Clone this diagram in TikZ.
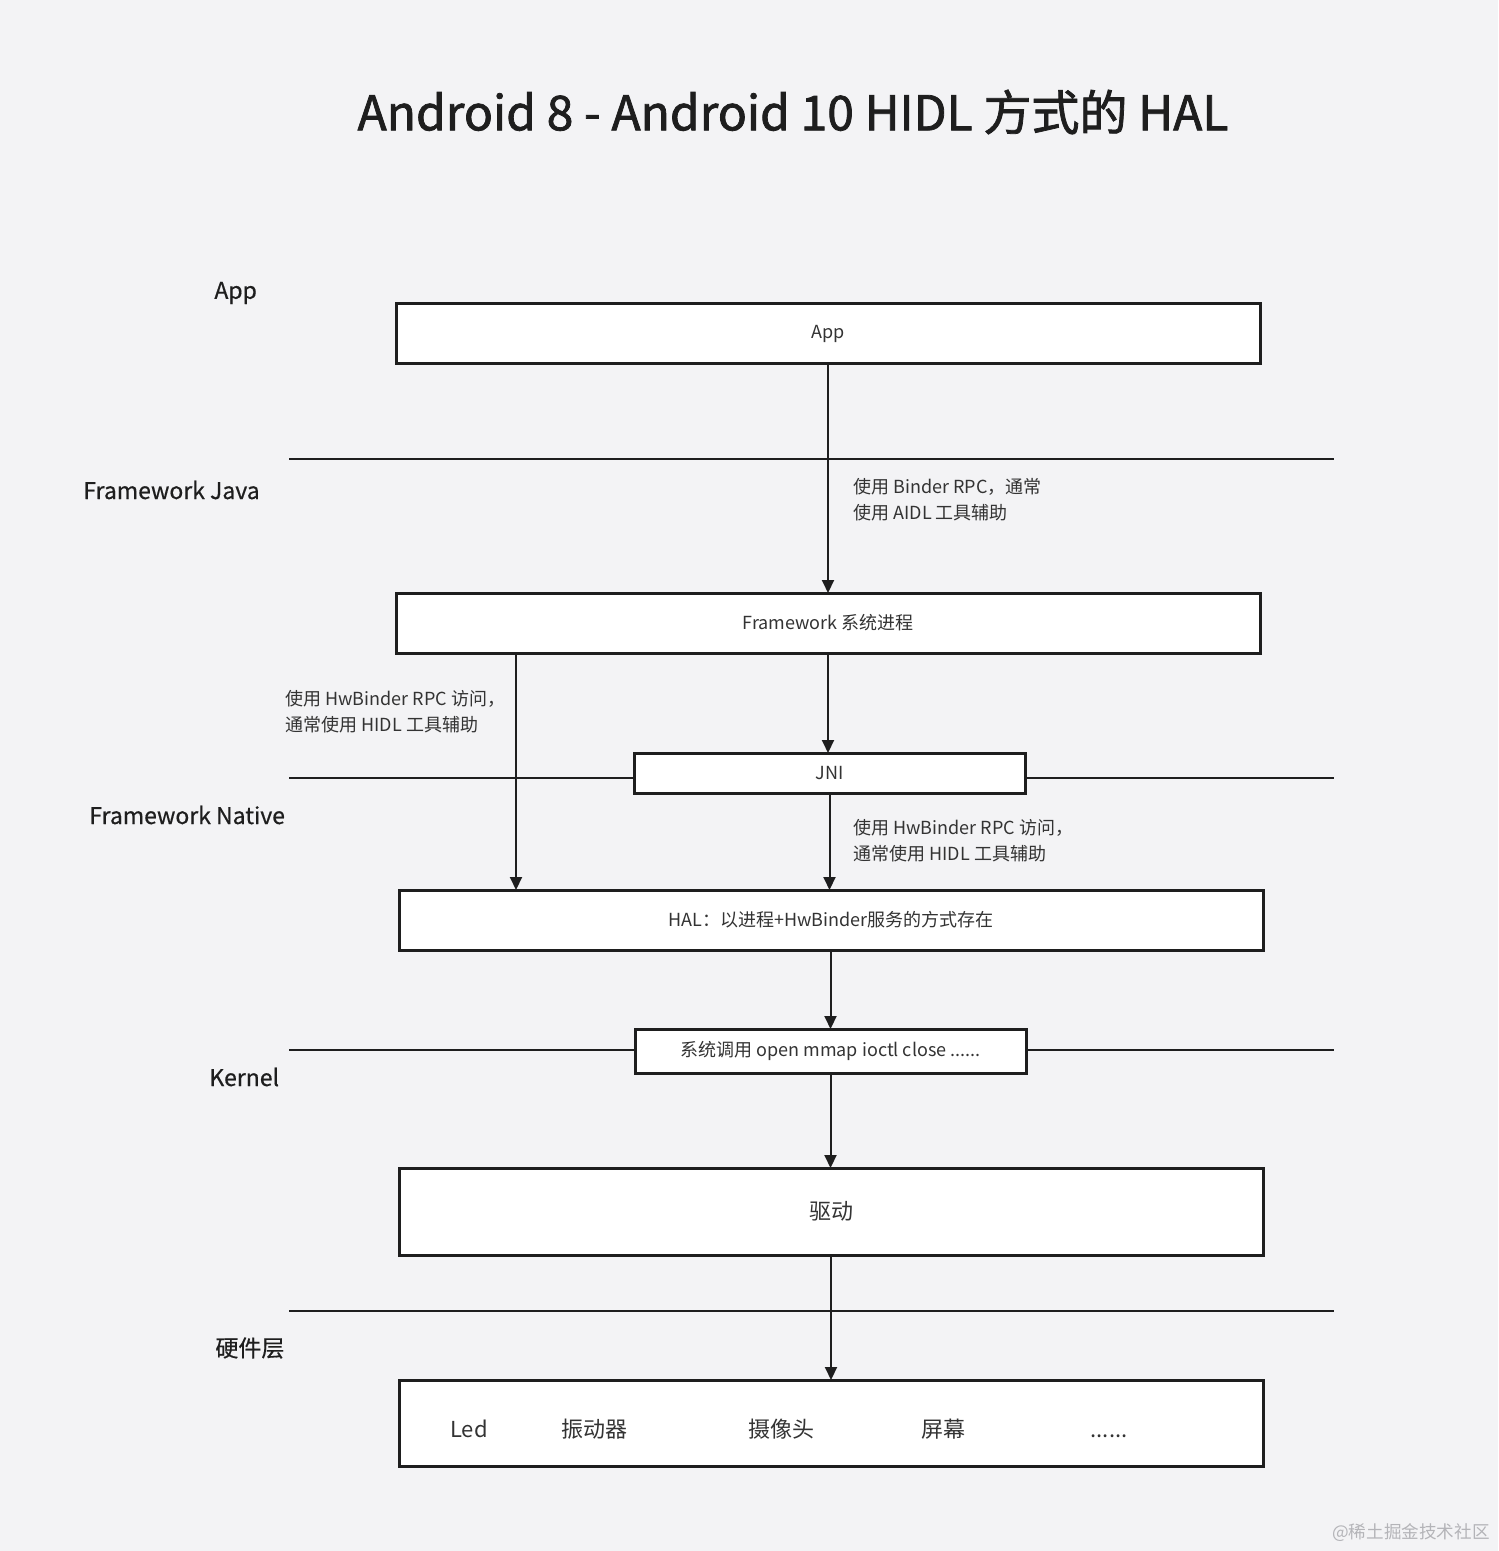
\documentclass[tikz,border=0pt]{standalone}
\usepackage{fontspec}
\setmainfont{Noto Sans CJK SC}
\newfontfamily\titlefont{Noto Sans CJK SC}[FakeBold=1.6]
\newfontfamily\layfont{Noto Sans CJK SC}[FakeBold=0.5]
\usetikzlibrary{arrows.meta,calc}
\definecolor{bg}{HTML}{F3F3F5}
\definecolor{ink}{HTML}{1E1E1E}
\definecolor{txt}{HTML}{333333}
\definecolor{wm}{HTML}{B4B4B8}
\begin{document}
\begin{tikzpicture}[x=0.5pt,y=-0.5pt,
  box/.style={draw=ink,line width=1.5pt,fill=white,inner sep=0pt,outer sep=0pt,
    text=txt,font=\fontsize{9}{11}\selectfont},
  sep/.style={draw=ink,line width=1.2pt},
  arr/.style={draw=ink,line width=1pt,-{Triangle[length=6.5pt,width=6pt]}},
  lay/.style={anchor=west,inner sep=0pt,text=ink,font=\layfont\fontsize{11.5}{14}\selectfont},
  note/.style={anchor=west,inner sep=0pt,align=left,text=txt,font=\fontsize{9}{13}\selectfont},
  hw/.style={anchor=base,inner sep=0pt,text=txt,font=\fontsize{11}{13}\selectfont}]
\useasboundingbox[fill=bg] (0,0) rectangle (1498,1551);

% title
\node[inner sep=0pt,text=ink,font=\titlefont\fontsize{24}{30}\selectfont] (title) at (793,112) {Android 8 - Android 10 HIDL 方式的 HAL};

% layer separators
\coordinate (s1a) at (289,459);  \coordinate (s1b) at (1334,459);
\coordinate (s2a) at (289,778);  \coordinate (s2b) at (1334,778);
\coordinate (s3a) at (289,1050); \coordinate (s3b) at (1334,1050);
\coordinate (s4a) at (289,1311); \coordinate (s4b) at (1334,1311);
\draw[sep] (s1a) -- (s1b);
\draw[sep] (s2a) -- (s2b);
\draw[sep] (s3a) -- (s3b);
\draw[sep] (s4a) -- (s4b);

% layer labels
\node[lay] (lApp) at (214,293) {App};
\node[lay] (lFJ) at (83,490) {Framework Java};
\node[lay] (lFN) at (89,815) {Framework Native};
\node[lay] (lK) at (209,1077) {Kernel};
\node[lay] (lH) at (215,1348) {硬件层};

% boxes
\node[box,minimum width=432pt,minimum height=30pt] (app) at (828,334) {App};
\node[box,minimum width=432pt,minimum height=30pt] (fw) at (828,623) {Framework 系统进程};
\node[box,minimum width=195.5pt,minimum height=20pt] (jni) at (829.5,773) {JNI};
\node[box,minimum width=432pt,minimum height=30pt] (hal) at (831,920) {HAL：以进程+HwBinder服务的方式存在};
\node[box,minimum width=195.5pt,minimum height=22pt] (sys) at (830.5,1051) {系统调用 open mmap ioctl close ......};
\node[box,minimum width=432pt,minimum height=43.5pt,font=\fontsize{11}{13}\selectfont] (drv) at (831,1211.5) {驱动};
\node[box,minimum width=432pt,minimum height=43pt] (hwb) at (831,1423) {};

% hardware items
\node[hw] (led) at (469,1437) {Led};
\node[hw] (vib) at (594,1437) {振动器};
\node[hw] (cam) at (781,1437) {摄像头};
\node[hw] (scr) at (943,1437) {屏幕};
\node[hw] (etc) at (1109,1437) {......};

% notes
\node[note] (n1) at (853,500) {使用 Binder RPC，通常\\使用 AIDL 工具辅助};
\node[note] (n2) at (285,712) {使用 HwBinder RPC 访问，\\通常使用 HIDL 工具辅助};
\node[note] (n3) at (853,841) {使用 HwBinder RPC 访问，\\通常使用 HIDL 工具辅助};

% connectors
\coordinate (lx) at (516,0);
\draw[arr] (app.south) -- (fw.north);
\draw[arr] (fw.south) -- (fw.south |- jni.north);
\draw[arr] (fw.south -| lx) -- (hal.north -| lx);
\draw[arr] (jni.south) -- (jni.south |- hal.north);
\draw[arr] (sys.north |- hal.south) -- (sys.north);
\draw[arr] (sys.south) -- (sys.south |- drv.north);
\draw[arr] (drv.south) -- (drv.south |- hwb.north);

% watermark
\node[anchor=east,inner sep=0pt,text=wm,font=\fontsize{8.8}{11}\selectfont] (wmk) at (1490,1533) {@稀土掘金技术社区};
\end{tikzpicture}
\end{document}
